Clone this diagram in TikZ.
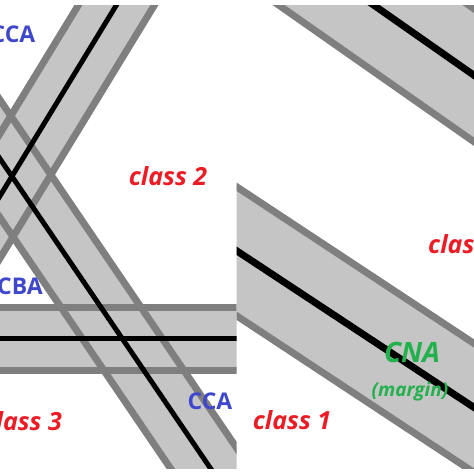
\documentclass[tikz,border=0pt]{standalone}
\usepackage{fontspec}
\setmainfont{Open Sans}
\usetikzlibrary{calc}

\definecolor{bandgray}{RGB}{197,197,197}
\definecolor{edgegray}{RGB}{127,127,127}
\definecolor{clsred}{RGB}{237,28,36}
\definecolor{algoblue}{RGB}{63,72,204}
\definecolor{cnagreen}{RGB}{34,177,76}

\begin{document}
\begin{tikzpicture}[
    x=1pt, y=-1pt,
    bandfill/.style={fill=bandgray},
    bandedge/.style={draw=edgegray, line width=7pt},
    centerline/.style={draw=black, line width=5pt},
    clslabel/.style={anchor=base, inner sep=0pt, text=clsred, font=\fontsize{25}{25}\selectfont\bfseries\itshape},
    algolabel/.style={anchor=base, inner sep=0pt, text=algoblue, font=\fontsize{23}{23}\selectfont\bfseries},
    cnalabel/.style={anchor=base, inner sep=0pt, text=cnagreen, font=\bfseries\itshape},
]
\useasboundingbox (0,0) rectangle (474,474);

% === LEFT PANEL ===
\begin{scope}
\clip (0,5.5) rectangle (236.5,468);

% band A (rising, CCA)
\coordinate (aC1) at (150,-50);  \coordinate (aC2) at (-216,550);
\coordinate (aL1) at (112,-50);  \coordinate (aL2) at (-254,550);
\coordinate (aR1) at (188,-50);  \coordinate (aR2) at (-178,550);
% band B (falling, CCA)
\coordinate (bC1) at (-142,-50); \coordinate (bC2) at (266,550);
\coordinate (bL1) at (-182,-50); \coordinate (bL2) at (226,550);
\coordinate (bR1) at (-102,-50); \coordinate (bR2) at (306,550);
% band C (horizontal, CBA)
\coordinate (cC1) at (-50,338.5); \coordinate (cC2) at (300,338.5);
\coordinate (cL1) at (-50,307.5); \coordinate (cL2) at (300,307.5);
\coordinate (cR1) at (-50,370);   \coordinate (cR2) at (300,370);

% fills first, then edges, then center lines
\fill[bandfill] (aL1) -- (aL2) -- (aR2) -- (aR1) -- cycle;
\fill[bandfill] (bL1) -- (bL2) -- (bR2) -- (bR1) -- cycle;
\fill[bandfill] (cL1) -- (cL2) -- (cR2) -- (cR1) -- cycle;

\draw[bandedge] (aL1) -- (aL2);
\draw[bandedge] (aR1) -- (aR2);
\draw[bandedge] (bL1) -- (bL2);
\draw[bandedge] (bR1) -- (bR2);
\draw[bandedge] (cL1) -- (cL2);
\draw[bandedge] (cR1) -- (cR2);

\draw[centerline] (aC1) -- (aC2);
\draw[centerline] (bC1) -- (bC2);
\draw[centerline] (cC1) -- (cC2);

% labels
\node[algolabel] (ccaTop) at (13,42) {CCA};
\node[algolabel] (cba) at (20,294) {CBA};
\node[algolabel] (ccaBot) at (210,409) {CCA};
\node[clslabel] (cls2L) at (168,185) {class 2};
\node[clslabel, anchor=base east] (cls3) at (62,430) {class 3};
\end{scope}

% === RIGHT PANEL (zoom) ===
\begin{scope}
\clip (236.5,5.5) rectangle (474,468);

% band D (upper)
\coordinate (dC1) at (200,-116.5); \coordinate (dC2) at (600,163.5);
\coordinate (dL1) at (200,-50);    \coordinate (dL2) at (600,230);
\coordinate (dR1) at (200,-183);   \coordinate (dR2) at (600,97);
% band E (CNA, margin)
\coordinate (eC1) at (200,226.6); \coordinate (eC2) at (600,490.6);
\coordinate (eL1) at (200,291.6); \coordinate (eL2) at (600,555.6);
\coordinate (eR1) at (200,162.6); \coordinate (eR2) at (600,426.6);

\fill[bandfill] (dL1) -- (dL2) -- (dR2) -- (dR1) -- cycle;
\fill[bandfill] (eL1) -- (eL2) -- (eR2) -- (eR1) -- cycle;

\draw[bandedge, line cap=round] (dL1) -- (dL2);
\draw[bandedge] (dR1) -- (dR2);
\draw[bandedge] (eL1) -- (eL2);
\draw[bandedge] (eR1) -- (eR2);

\draw[centerline, line width=7pt] (dC1) -- (dC2);
\draw[centerline, line width=7pt] (eC1) -- (eC2);

% labels
\node[clslabel] (cls1) at (292,429) {class 1};
\node[clslabel, anchor=base west] (cls2R) at (428,253) {class 2};
\node[cnalabel, font=\fontsize{28}{28}\selectfont\bfseries\itshape] (cna) at (412,362) {CNA};
\node[cnalabel, font=\fontsize{19}{19}\selectfont\bfseries\itshape] (margin) at (410,396) {(margin)};
\end{scope}

\end{tikzpicture}
\end{document}
